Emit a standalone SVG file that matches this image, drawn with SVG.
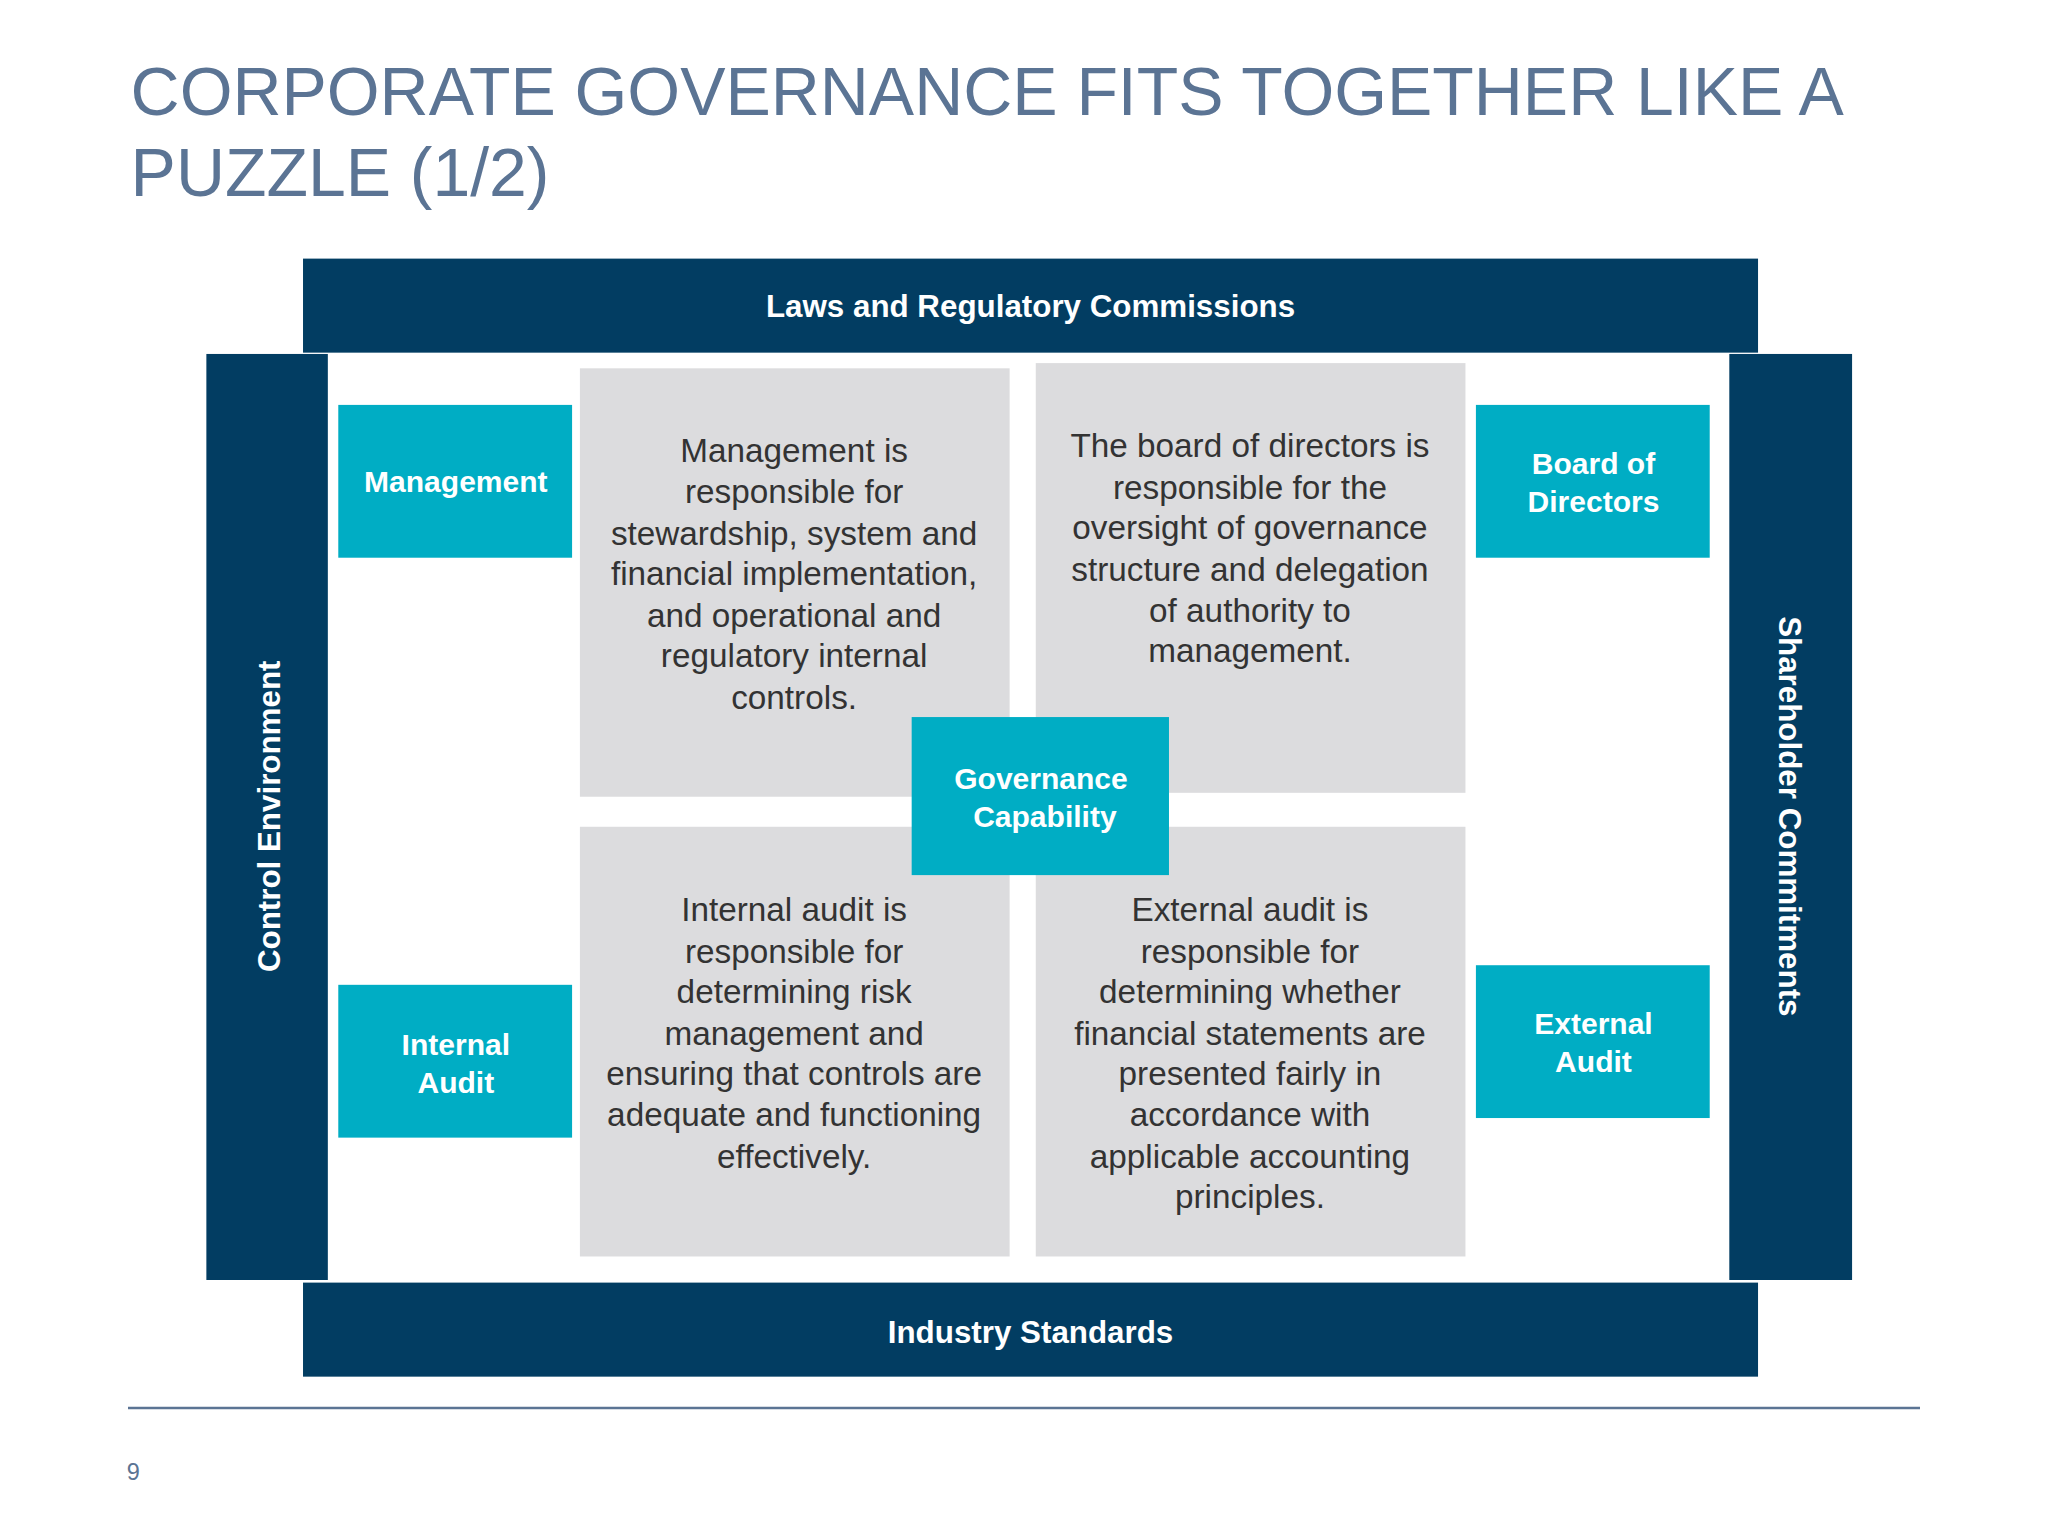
<svg xmlns="http://www.w3.org/2000/svg" width="2048" height="1536" viewBox="0 0 2048 1536">
<style>
.dark{fill:#023d62}.teal{fill:#00adc4}.gray{fill:#dcdcde}
.wt{font-family:"Liberation Sans",Arial,sans-serif;font-weight:bold;fill:#fff;text-anchor:middle}
.bt{font-family:"Liberation Sans",Arial,sans-serif;fill:#333;font-size:25.5px;text-anchor:middle}
</style>
<rect width="2048" height="1536" fill="#fff"/>
<g transform="scale(1.30612)">
<g id="title" font-family="Liberation Sans,Arial,sans-serif" font-size="52" fill="#5b7494">
<text x="100" y="88">CORPORATE GOVERNANCE FITS TOGETHER LIKE A</text>
<text x="100" y="150">PUZZLE (1/2)</text>
</g>
<g id="laws"><rect class="dark" x="232" y="198" width="1114" height="72"/><text class="wt" x="789" y="243" font-size="24">Laws and Regulatory Commissions</text></g>
<g id="industry"><rect class="dark" x="232" y="982" width="1114" height="72"/><text class="wt" x="789" y="1028" font-size="24">Industry Standards</text></g>
<g id="control"><rect class="dark" x="158" y="271" width="93" height="709"/><text class="wt" font-size="24" transform="translate(214,625) rotate(-90)">Control Environment</text></g>
<g id="shareholder"><rect class="dark" x="1324" y="271" width="94" height="709"/><text class="wt" font-size="24" transform="translate(1362,625) rotate(90)">Shareholder Commitments</text></g>
<g id="g-tl"><rect class="gray" x="444" y="282" width="329" height="328"/>
<text class="bt"><tspan x="608" y="354">Management is</tspan><tspan x="608" y="385">responsible for</tspan><tspan x="608" y="417">stewardship, system and</tspan><tspan x="608" y="448">financial implementation,</tspan><tspan x="608" y="480">and operational and</tspan><tspan x="608" y="511">regulatory internal</tspan><tspan x="608" y="543">controls.</tspan></text></g>
<g id="g-tr"><rect class="gray" x="793" y="278" width="329" height="329"/>
<text class="bt"><tspan x="957" y="350">The board of directors is</tspan><tspan x="957" y="382">responsible for the</tspan><tspan x="957" y="413">oversight of governance</tspan><tspan x="957" y="445">structure and delegation</tspan><tspan x="957" y="476">of authority to</tspan><tspan x="957" y="507">management.</tspan></text></g>
<g id="g-bl"><rect class="gray" x="444" y="633" width="329" height="329"/>
<text class="bt"><tspan x="608" y="705">Internal audit is</tspan><tspan x="608" y="737">responsible for</tspan><tspan x="608" y="768">determining risk</tspan><tspan x="608" y="800">management and</tspan><tspan x="608" y="831">ensuring that controls are</tspan><tspan x="608" y="862">adequate and functioning</tspan><tspan x="608" y="894">effectively.</tspan></text></g>
<g id="g-br"><rect class="gray" x="793" y="633" width="329" height="329"/>
<text class="bt"><tspan x="957" y="705">External audit is</tspan><tspan x="957" y="737">responsible for</tspan><tspan x="957" y="768">determining whether</tspan><tspan x="957" y="800">financial statements are</tspan><tspan x="957" y="831">presented fairly in</tspan><tspan x="957" y="862">accordance with</tspan><tspan x="957" y="894">applicable accounting</tspan><tspan x="957" y="925">principles.</tspan></text></g>
<g id="governance"><rect class="teal" x="698" y="549" width="197" height="121"/><text class="wt" font-size="23"><tspan x="797" y="604">Governance</tspan><tspan x="800" y="633">Capability</tspan></text></g>
<g id="management"><rect class="teal" x="259" y="310" width="179" height="117"/><text class="wt" x="349" y="377" font-size="23">Management</text></g>
<g id="board"><rect class="teal" x="1130" y="310" width="179" height="117"/><text class="wt" font-size="23"><tspan x="1220" y="363">Board of</tspan><tspan x="1220" y="392">Directors</tspan></text></g>
<g id="internal"><rect class="teal" x="259" y="754" width="179" height="117"/><text class="wt" font-size="23"><tspan x="349" y="808">Internal</tspan><tspan x="349" y="837">Audit</tspan></text></g>
<g id="external"><rect class="teal" x="1130" y="739" width="179" height="117"/><text class="wt" font-size="23"><tspan x="1220" y="792">External</tspan><tspan x="1220" y="821">Audit</tspan></text></g>
<g id="connectors"/>
<line x1="98" y1="1078" x2="1470" y2="1078" stroke="#5b7494" stroke-width="2"/>
<text x="97" y="1133" font-family="Liberation Sans,Arial,sans-serif" font-size="18" fill="#5b7494">9</text>
</g>
</svg>
